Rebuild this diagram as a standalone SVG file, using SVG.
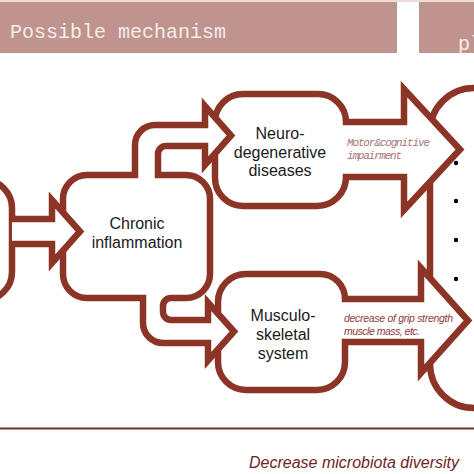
<svg xmlns="http://www.w3.org/2000/svg" width="474" height="474" viewBox="0 0 474 474">
<style>
.sh{fill:#fff;stroke:#8c3426;stroke-width:6.5;stroke-linejoin:miter;stroke-miterlimit:10}
.lbl{font-family:"Liberation Sans",Arial,sans-serif;font-size:16px;fill:#1a1a1a;text-anchor:middle}
.hdr{font-family:"Liberation Mono","DejaVu Sans Mono",monospace;font-size:20px;fill:#f5ecea}
.mot{font-family:"Liberation Mono",monospace;font-size:11px;font-style:italic;fill:#a47676}
.grip{font-family:"Liberation Sans",Arial,sans-serif;font-size:10.5px;font-style:italic;fill:#8c3b3b}
</style>
<rect width="474" height="474" fill="#fff"/>
<g id="header">
<rect x="0" y="0" width="474" height="2" fill="#efdcd8"/>
<rect x="0" y="2" width="397" height="51" fill="#c0948e"/>
<rect x="419" y="2" width="55" height="51" fill="#c0948e"/>
<text class="hdr" x="10" y="38">Possible mechanism</text>
<text class="hdr" x="458" y="50">pl</text>
</g>
<g id="outcome">
<rect class="sh" x="430" y="88" width="110" height="320" rx="44"/>
<circle cx="456" cy="163" r="2.2" fill="#000"/>
<circle cx="456" cy="201" r="2.2" fill="#000"/>
<circle cx="456" cy="240" r="2.2" fill="#000"/>
<circle cx="456" cy="279" r="2.2" fill="#000"/>
</g>
<g id="source">
<rect class="sh" x="-60" y="180" width="72" height="120" rx="28"/>
</g>
<g id="neuro">
<path class="sh" d="M215,122 A28,28 0 0 1 243,94 L318,94 A28,28 0 0 1 346,122 L404,122 L404,89 L460,149.5 L404,210 L404,177 L346,177 A29,29 0 0 1 317,206 L243,206 A28,28 0 0 1 215,178 Z"/>
<text class="lbl" x="280" y="139">Neuro-</text>
<text class="lbl" x="280" y="157.5">degenerative</text>
<text class="lbl" x="280" y="176">diseases</text>
<text class="mot" x="347" y="146" textLength="83">Motor&amp;cognitive</text>
<text class="mot" x="347" y="159" textLength="55">impairment</text>
</g>
<g id="musculo">
<path class="sh" d="M218,302 A28,28 0 0 1 246,274 L320,274 A25,25 0 0 1 345,299 L421,299 L421,268 L468,320.5 L421,373 L421,342 L345,342 L345,362 A28,28 0 0 1 317,390 L246,390 A28,28 0 0 1 218,362 Z"/>
<text class="lbl" x="283" y="321">Musculo-</text>
<text class="lbl" x="283" y="340">skeletal</text>
<text class="lbl" x="283" y="359">system</text>
<text class="grip" x="344" y="322" textLength="109">decrease of grip strength</text>
<text class="grip" x="344" y="335" textLength="76">muscle mass, etc.</text>
</g>
<g id="chronic">
<path class="sh" d="M63,199 A24,24 0 0 1 87,175 L135,175 L135,145 A20,20 0 0 1 155,125 L205,125 L205,106 L231,135.5 L205,165 L205,146 L166,146 A8,8 0 0 0 158,154 L158,175 L186,175 A24,24 0 0 1 210,199 L210,274 A24,24 0 0 1 186,298 L171,298 A8,8 0 0 0 163,306 L163,312 A8,8 0 0 0 171,320 L208,320 L208,302.5 L234,331.5 L208,360.5 L208,343 L163,343 A20,20 0 0 1 143,323 L143,298 L87,298 A24,24 0 0 1 63,274 Z"/>
<text class="lbl" x="137" y="229">Chronic</text>
<text class="lbl" x="137" y="248">inflammation</text>
</g>
<g id="connectors">
<path class="sh" d="M12,219 L52,219 L52,200 L80,231.5 L52,263 L52,244 L12,244"/>
</g>
<line x1="0" y1="428.5" x2="474" y2="428.5" stroke="#7b2c2c" stroke-width="2"/>
<text x="249" y="468" textLength="210" style="font-family:'Liberation Sans',Arial,sans-serif;font-size:16px;font-style:italic;fill:#6e2424">Decrease microbiota diversity</text>
</svg>
